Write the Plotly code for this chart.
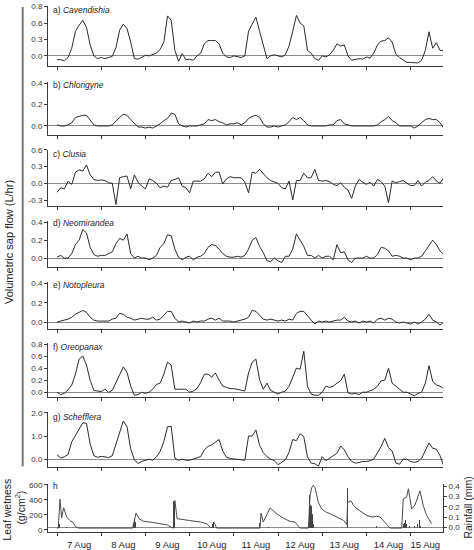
import plotly.graph_objects as go

# ---------------- data (time in hours since 7 Aug 00:00) ----------------
hours = list(range(0, 211, 2))

cavendishia = [-0.07, -0.07, -0.09, -0.03, 0.14, 0.45, 0.56, 0.65, 0.52, 0.2,
               0.0, -0.05, -0.03, -0.05, -0.03, -0.01, 0.15, 0.47, 0.58, 0.5,
               0.25, -0.05, -0.06, -0.02, 0.01, 0.0, 0.02, 0.05, 0.12, 0.25,
               0.73, 0.65, 0.1, -0.1, 0.04, -0.07, -0.06, -0.08, 0.0, 0.05,
               0.22, 0.28, 0.28, 0.28, 0.22, 0.05, -0.02, -0.03, 0.0, -0.02,
               -0.03, 0.0, 0.45, 0.58, 0.71, 0.45, 0.22, -0.05, 0.0, 0.02,
               0.0, -0.02, 0.02, 0.18, 0.45, 0.74, 0.6, 0.55, 0.1, 0.05,
               -0.05, -0.08, 0.0, -0.02, 0.02, 0.1, 0.22, 0.18, 0.2, 0.0,
               -0.08, -0.06, -0.05, -0.06, -0.02, -0.04, 0.05, 0.2, 0.27, 0.28,
               0.33, 0.25, 0.03, -0.03, -0.08, -0.12, -0.12, -0.12, -0.13, -0.08,
               0.1, 0.44, 0.14, 0.24, 0.1, 0.1]

chlorigyne = [.01, .0, .0, .01, .03, .08, .09, .1, .1, .06,
              .01, .0, .0, .0, .0, .01, .05, .08, .11, .1,
              .06, .02, -.01, -.01, -.02, -.01, -.02, .0, .02, .05,
              .07, .12, .11, .02, .0, -.01, .0, .0, .0, .01,
              .02, .06, .05, .06, .04, .03, .01, .02, .02, .03,
              .01, .03, .07, .09, .1, .08, .02, -.01, -.01, .0,
              -.01, .0, .01, .04, .08, .06, .08, .05, .01, .0,
              .0, .0, .0, .0, .01, .01, .05, .06, .02, .01,
              .0, .0, .0, .0, .0, .0, .0, .01, .04, .06,
              .09, .05, .03, .0, .0, .0, .0, -.02, .0, .03,
              .06, .07, .06, .06, .03, -.02]

clusia = [-0.16, -0.08, -0.1, 0.04, -0.02, 0.2, 0.24, 0.22, 0.33, 0.15,
          0.07, 0.05, 0.06, 0.05, 0.01, 0.0, -0.38, 0.1, 0.12, 0.13,
          -0.1, 0.15, 0.02, -0.05, -0.1, 0.08, 0.05, 0.0, -0.08, -0.05,
          -0.07, 0.05, 0.07, 0.1, -0.05, -0.08, -0.17, 0.04, 0.04, 0.04,
          0.08, 0.18, 0.12, 0.2, 0.2, -0.01, 0.08, 0.12, 0.1, 0.1,
          0.1, 0.02, -0.17, 0.2, 0.18, 0.25, 0.17, 0.1, 0.05, 0.03,
          0.0, -0.08, -0.1, 0.04, -0.3, 0.05, 0.05, 0.18, 0.1, 0.1,
          0.25, 0.05, 0.04, 0.05, 0.03, -0.02, -0.04, 0.01, -0.07, -0.12,
          -0.27, -0.05, 0.07, 0.02, -0.02, 0.02, -0.05, 0.07, 0.03, -0.05,
          -0.35, 0.04, 0.01, 0.03, 0.05, 0.0, -0.04, -0.04, 0.05, -0.05,
          0.02, 0.05, 0.12, 0.04, 0.0, 0.1]

neomirandea = [0.01, 0.03, 0.0, 0.0, 0.05, 0.15, 0.2, 0.32, 0.28, 0.12,
               0.04, 0.02, 0.03, 0.03, 0.05, 0.07, 0.16, 0.22, 0.2, 0.27,
               0.05, 0.0, 0.02, 0.0, 0.0, -0.02, 0.0, 0.03, 0.12, 0.16,
               0.26, 0.25, 0.1, 0.01, -0.02, 0.01, 0.02, -0.02, 0.01, 0.02,
               0.05, 0.12, 0.15, 0.14, 0.1, 0.05, 0.02, 0.01, 0.01, 0.02,
               0.01, 0.03, 0.1, 0.2, 0.23, 0.13, 0.06, -0.03, -0.04, 0.0,
               -0.03, -0.05, 0.02, 0.02, 0.1, 0.27, 0.2, 0.13, 0.03, 0.03,
               0.0, 0.03, 0.0, 0.02, 0.02, -0.02, 0.15, 0.06, 0.07, -0.02,
               -0.05, 0.0, 0.0, 0.0, 0.02, 0.0, 0.0, 0.04, 0.12, 0.11,
               0.08, 0.02, 0.03, 0.02, 0.0, 0.0, -0.02, 0.0, 0.0, 0.02,
               0.08, 0.14, 0.2, 0.15, 0.08, 0.04]

notopleura = [0.0, 0.01, 0.02, 0.03, 0.05, 0.08, 0.1, 0.12, 0.1, 0.05,
              0.02, 0.01, 0.01, 0.01, 0.01, 0.03, 0.04, 0.09, 0.08, 0.05,
              0.04, 0.02, 0.03, 0.04, 0.03, 0.03, 0.05, 0.02, 0.03, 0.07,
              0.11, 0.11, 0.04, 0.0, 0.01, 0.0, -0.01, 0.01, 0.0, 0.01,
              0.01, 0.03, 0.04, 0.02, 0.04, 0.01, 0.01, 0.01, 0.0, 0.01,
              0.02, 0.03, 0.05, 0.12, 0.11, 0.07, 0.03, 0.02, 0.03, 0.02,
              0.01, 0.02, 0.01, 0.03, 0.02, 0.09, 0.11, 0.11, 0.06, 0.02,
              -0.02, 0.01, 0.0, 0.01, 0.0, 0.01, 0.02, 0.02, 0.05, 0.01,
              0.0, 0.01, -0.01, 0.01, 0.0, 0.01, -0.01, 0.03, 0.04, 0.02,
              0.04, 0.03, 0.0, -0.01, 0.0, -0.01, -0.02, 0.0, -0.02, 0.0,
              0.03, 0.08, 0.02, 0.0, -0.03, 0.0]

oreopanax = [0.0, -0.04, -0.02, 0.04, 0.12, 0.3, 0.55, 0.6, 0.45, 0.2,
             0.03, 0.02, 0.01, 0.05, 0.0, 0.03, 0.17, 0.3, 0.42, 0.33,
             0.1, -0.05, -0.04, 0.0, -0.02, 0.0, 0.05, 0.13, 0.15, 0.3,
             0.5, 0.45, 0.05, 0.05, 0.05, 0.05, 0.0, 0.02, 0.06, 0.16,
             0.3, 0.3, 0.25, 0.32, 0.2, 0.1, 0.08, 0.06, 0.06, 0.05,
             0.04, 0.02, 0.32, 0.5, 0.55, 0.21, 0.05, 0.15, 0.03, 0.0,
             -0.03, 0.0, 0.02, 0.1, 0.26, 0.4, 0.38, 0.68, 0.1, -0.03,
             -0.05, -0.05, 0.0, 0.1, 0.08, 0.1, 0.15, 0.19, 0.3, -0.01,
             -0.03, -0.02, -0.04, 0.0, 0.0, 0.02, 0.05, 0.1, 0.19, 0.2,
             0.4, 0.15, 0.1, 0.05, 0.0, 0.0, -0.03, -0.06, -0.02, 0.0,
             0.15, 0.44, 0.18, 0.12, 0.1, 0.06]

schefflera = [0.19, 0.05, 0.1, 0.2, 0.75, 1.04, 1.28, 1.57, 1.55, 0.65,
              0.15, 0.08, 0.12, 0.08, 0.07, 0.15, 0.65, 1.2, 1.65, 1.4,
              0.45, -0.03, -0.19, -0.1, -0.05, 0.0, -0.05, 0.1, 0.33, 0.76,
              1.4, 1.42, 0.04, -0.05, 0.0, -0.05, -0.05, 0.0, 0.05, 0.11,
              0.4, 0.55, 0.62, 0.75, 0.85, 0.35, 0.08, 0.03, 0.0, 0.0,
              -0.03, -0.05, 1.0, 1.0, 1.26, 0.6, 0.28, 0.11, 0.0, -0.06,
              -0.24, -0.14, -0.03, 0.3, 0.85, 0.8, 1.1, 0.97, 0.1, -0.17,
              -0.2, -0.3, 0.11, -0.07, 0.05, 0.15, 0.25, 0.57, 0.4, 0.11,
              -0.1, -0.17, -0.15, -0.1, -0.1, -0.07, 0.0, 0.25, 0.55, 0.9,
              0.5, 0.35, -0.17, -0.22, 0.0, 0.0, -0.1, -0.14, -0.1, 0.04,
              0.35, 0.7, 0.47, 0.43, 0.15, -0.3]

lw_hours = [0, 0.7, 1.6, 2.5, 3.6, 5.3, 7.1, 8.6, 10.0, 11.6,
            41.1, 42.9, 44.5, 47.0, 52.0, 56.0, 60.0, 62.5, 63.2, 64.0,
            65.2, 72.0, 78.0, 81.5, 83.2, 84.3, 85.3, 86.7, 110.2, 110.8,
            112.0, 115.7, 119.3, 122.9, 126.5, 129.2, 131.0, 132.0, 136.5, 137.4,
            138.3, 139.2, 140.1, 141.0, 141.9, 143.7, 145.6, 148.3, 152.0, 155.6,
            157.4, 157.8, 158.3, 159.6, 161.1, 162.9, 165.6, 168.3, 171.0, 173.7,
            175.5, 177.3, 179.1, 180.9, 187.2, 188.0, 189.9, 190.8, 191.7, 192.6,
            194.4, 196.2, 197.1, 198.9, 200.7, 203.4]
leaf_wetness = [25, 25, 410, 160, 295, 170, 125, 100, 45, 25,
                25, 225, 150, 115, 100, 85, 65, 30, 25, 390,
                150, 125, 105, 80, 35, 30, 100, 25, 25, 225,
                105, 293, 214, 157, 114, 105, 61, 25, 25, 453,
                562, 593, 562, 475, 366, 280, 244, 214, 170, 127,
                71, 380, 366, 388, 323, 280, 235, 192, 170, 183,
                170, 127, 71, 25, 25, 410, 440, 548, 431, 280,
                332, 453, 519, 323, 192, 84]

rain_hours = [0.7, 1.2, 4.9, 41.5, 42.0, 42.5, 63.2, 63.7, 84.5, 85.0,
              110.2, 114.7, 137.0, 137.5, 138.0, 138.5, 139.0, 157.5, 158.0, 173.6,
              188.0, 188.5, 189.0, 189.5, 190.0, 191.5, 194.0, 196.0, 197.0, 197.5]
rain_mm = [0.055, 0.03, 0.01, 0.04, 0.08, 0.05, 0.26, 0.25, 0.03, 0.05,
           0.04, 0.01, 0.32, 0.22, 0.21, 0.13, 0.03, 0.38, 0.05, 0.015,
           0.03, 0.04, 0.04, 0.07, 0.03, 0.02, 0.02, 0.03, 0.07, 0.02]

midnight_hours = [0, 24, 48, 72, 96, 120, 144, 168, 192]
date_label_hours = [12, 36, 60, 84, 108, 132, 156, 180, 200]
date_labels = ["7 Aug", "8 Aug", "9 Aug", "10 Aug", "11 Aug", "12 Aug",
               "13 Aug", "14 Aug", "15 Aug"]

# ---------------- layout ----------------
W, H = 474, 550
FONT = "Liberation Sans, Arial, Helvetica, sans-serif"
XDOM = [48 / W, 443 / W]
XRANGE = [-4.9, 209.6]
LINE = "#2a2a2a"
AX = "#3a3a3a"


def py(px):
    return 1 - px / H


panels = [
    dict(letter="a)", name="Cavendishia", data=cavendishia, top=2, bot=63.3,
         rng=[-0.19, 0.912], tv=[0, 0.3, 0.6, 0.9], tt=["0.0", "0.3", "0.6", "0.8"], ly=6),
    dict(letter="b)", name="Chlorigyne", data=chlorigyne, top=79, bot=133,
         rng=[-0.083, 0.415], tv=[0, 0.2, 0.4], tt=["0.0", "0.2", "0.4"], ly=82.7),
    dict(letter="c)", name="Clusia", data=clusia, top=148, bot=205.3,
         rng=[-0.406, 0.605], tv=[-0.3, 0, 0.3, 0.6], tt=["-0.3", "0.0", "0.3", "0.6"], ly=153),
    dict(letter="d)", name="Neomirandea", data=neomirandea, top=221, bot=267.3,
         rng=[-0.099, 0.41], tv=[0, 0.2, 0.4], tt=["0.0", "0.2", "0.4"], ly=222.5),
    dict(letter="e)", name="Notopleura", data=notopleura, top=283, bot=330.7,
         rng=[-0.075, 0.41], tv=[0, 0.2, 0.4], tt=["0.0", "0.2", "0.4"], ly=285.5),
    dict(letter="f)", name="Oreopanax", data=oreopanax, top=345, bot=400,
         rng=[-0.087, 0.811], tv=[0, 0.2, 0.4, 0.6, 0.8], tt=["0.0", "0.2", "0.4", "0.6", "0.8"], ly=349),
    dict(letter="g)", name="Schefflera", data=schefflera, top=415, bot=470.7,
         rng=[-0.34, 2.03], tv=[0, 1, 2], tt=["0.0", "1.0", "2.0"], ly=419.5),
]

fig = go.Figure()
layout = dict(
    width=W, height=H, margin=dict(l=0, r=0, t=0, b=0),
    paper_bgcolor="white", plot_bgcolor="white",
    showlegend=False, font=dict(family=FONT, size=8, color="#333"),
    annotations=[], shapes=[],
)

for i, p in enumerate(panels, start=1):
    xa = "x" if i == 1 else f"x{i}"
    ya = "y" if i == 1 else f"y{i}"
    fig.add_trace(go.Scatter(x=hours, y=p["data"], mode="lines",
                             line=dict(color=LINE, width=1), xaxis=xa, yaxis=ya,
                             hoverinfo="skip"))
    layout[f"xaxis{'' if i == 1 else i}"] = dict(
        domain=XDOM, range=XRANGE, anchor=ya, showgrid=False, zeroline=False,
        showline=True, linecolor=AX, linewidth=1,
        tickmode="array", tickvals=midnight_hours, ticks="outside", ticklen=3,
        tickcolor=AX, showticklabels=False)
    layout[f"yaxis{'' if i == 1 else i}"] = dict(
        domain=[py(p["bot"]), py(p["top"])], range=p["rng"], anchor=xa,
        showgrid=False, zeroline=True, zerolinecolor="#8a8a8a", zerolinewidth=1,
        showline=True, linecolor=AX, linewidth=1,
        tickmode="array", tickvals=p["tv"], ticktext=p["tt"],
        ticks="outside", ticklen=3, tickcolor=AX, tickfont=dict(size=8, color="#333"))
    layout["annotations"].append(dict(
        xref="paper", yref="paper", x=51 / W, y=py(p["ly"]), xanchor="left",
        yanchor="middle", showarrow=False,
        text=f"{p['letter']} <i>{p['name']}</i>", font=dict(size=8.5, color="#222")))

# panel h: leaf wetness + rainfall
fig.add_trace(go.Scatter(x=lw_hours, y=leaf_wetness, mode="lines",
                         line=dict(color="#4a4a4a", width=1), xaxis="x8", yaxis="y8",
                         hoverinfo="skip"))
fig.add_trace(go.Bar(x=rain_hours, y=rain_mm, width=0.55, marker=dict(color="#444", line=dict(width=0)),
                     xaxis="x8", yaxis="y9", hoverinfo="skip"))

layout["xaxis8"] = dict(
    domain=XDOM, range=XRANGE, anchor="y8", showgrid=False, zeroline=False,
    showline=True, linecolor=AX, linewidth=1,
    tickmode="array", tickvals=date_label_hours, ticktext=date_labels,
    ticks="outside", ticklen=3, tickcolor="rgba(0,0,0,0)",
    tickfont=dict(size=9.5, color="#222"),
    minor=dict(tickmode="array", tickvals=midnight_hours, ticks="outside",
               ticklen=3, tickcolor=AX, showgrid=False))
layout["yaxis8"] = dict(
    domain=[py(537), py(488)], range=[-30, 610], anchor="x8", showgrid=False,
    zeroline=False, showline=True, linecolor=AX, linewidth=1,
    tickmode="array", tickvals=[0, 200, 400, 600], ticktext=["0", "200", "400", "600"],
    ticks="outside", ticklen=3, tickcolor=AX, tickfont=dict(size=8, color="#333"))
layout["yaxis9"] = dict(
    overlaying="y8", side="right", anchor="x8", range=[-0.045, 0.422],
    showgrid=False, zeroline=True, zerolinecolor="#8a8a8a", zerolinewidth=1,
    showline=True, linecolor=AX, linewidth=1,
    tickmode="array", tickvals=[0, 0.1, 0.2, 0.3, 0.4],
    ticktext=["0.0", "0.1", "0.2", "0.3", "0.4"],
    ticks="outside", ticklen=3, tickcolor=AX, tickfont=dict(size=8, color="#333"))
layout["bargap"] = 0
layout["annotations"].append(dict(
    xref="paper", yref="paper", x=51 / W, y=py(490), xanchor="left", yanchor="middle",
    showarrow=False, text="h", font=dict(size=8.5, color="#222")))

# shared axis titles
layout["annotations"] += [
    dict(xref="paper", yref="paper", x=9 / W, y=py(242), textangle=-90,
         xanchor="center", yanchor="middle",
         showarrow=False, text="Volumetric sap flow (L/hr)",
         font=dict(size=11, color="#222")),
    dict(xref="paper", yref="paper", x=7 / W, y=py(514), textangle=-90,
         xanchor="center", yanchor="middle",
         showarrow=False, text="Leaf wetness", font=dict(size=10.5, color="#222")),
    dict(xref="paper", yref="paper", x=20 / W, y=py(512), textangle=-90,
         xanchor="center", yanchor="middle",
         showarrow=False, text="(g/cm<sup>2</sup>)", font=dict(size=10.5, color="#222")),
    dict(xref="paper", yref="paper", x=468 / W, y=py(512), textangle=-90,
         xanchor="center", yanchor="middle",
         showarrow=False, text="Rainfall (mm)", font=dict(size=10.5, color="#222")),
]
layout["shapes"].append(dict(type="line", xref="paper", yref="paper",
                             x0=22.7 / W, x1=22.7 / W, y0=py(470), y1=py(3),
                             line=dict(color="#777", width=2)))

fig.update_layout(**layout)
fig.write_html("out.html",
               config={"displayModeBar": False, "staticPlot": True},
               post_script="document.body.style.margin='0';document.body.style.overflow='hidden';")
